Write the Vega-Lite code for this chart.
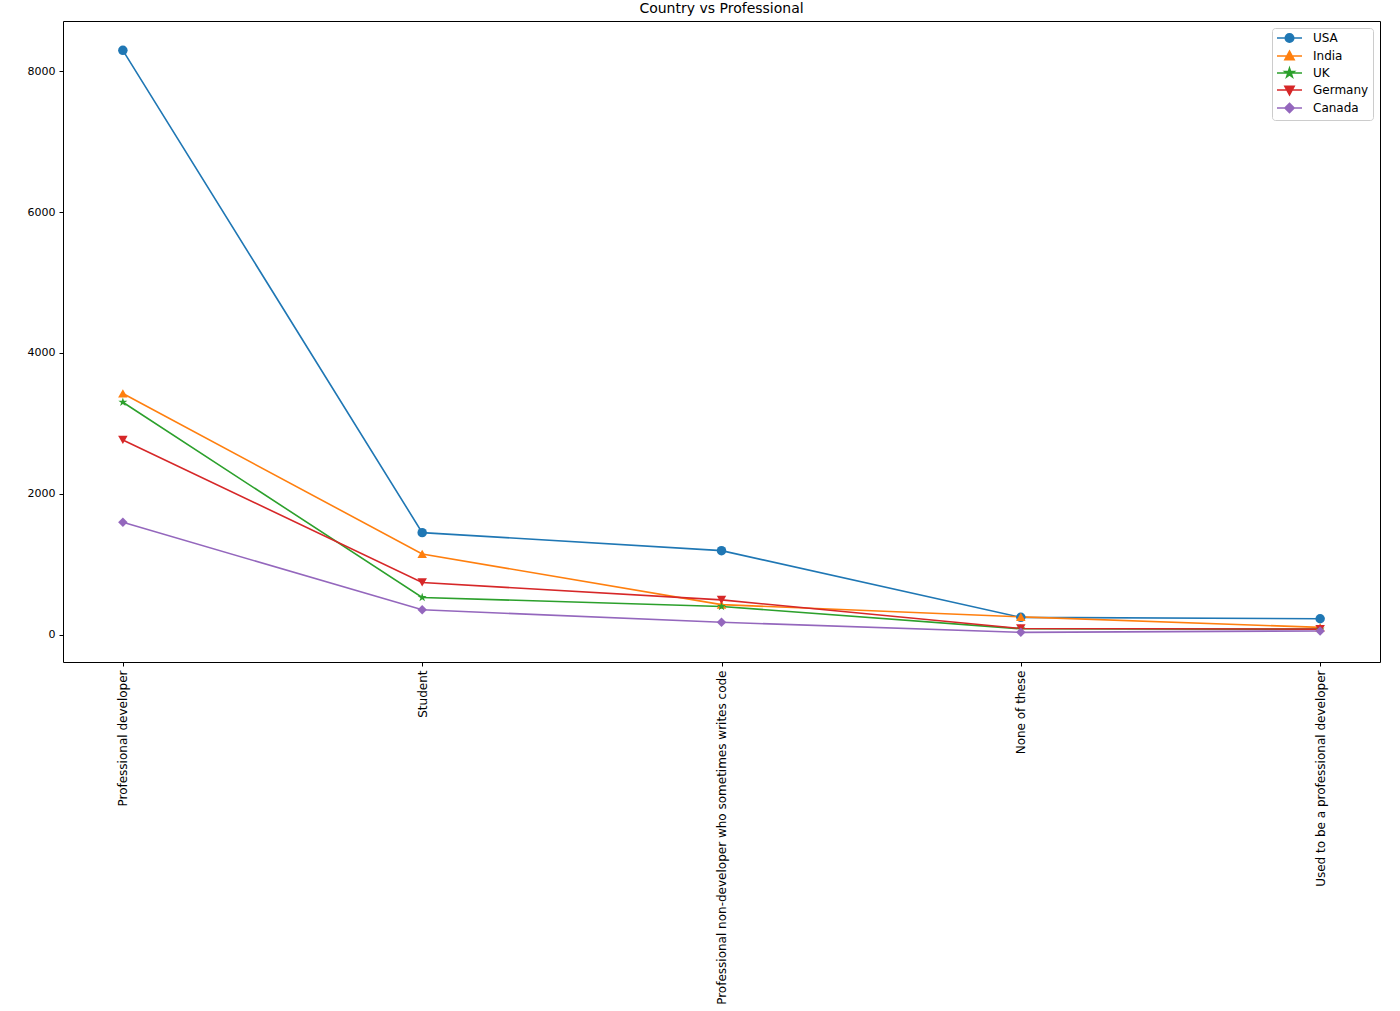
{
  "$schema": "https://vega.github.io/schema/vega-lite/v6.json",
  "width": 1317,
  "height": 641,
  "autosize": {"type": "none"},
  "padding": {"left": 63, "top": 21, "right": 20, "bottom": 349},
  "title": {"text": "Country vs Professional", "font": "DejaVu Sans", "fontSize": 14, "fontWeight": "normal", "offset": 5},
  "config": {
    "font": "DejaVu Sans",
    "view": {"stroke": "black", "strokeWidth": 1},
    "axis": {"grid": false, "domain": false, "tickColor": "black", "labelColor": "black", "labelFontSize": 12, "labelFont": "DejaVu Sans", "tickSize": 4, "labelPadding": 4}
  },
  "data": {
    "values": [
      {"country": "USA", "role": "Professional developer", "count": 8295},
      {"country": "USA", "role": "Student", "count": 1450},
      {"country": "USA", "role": "Professional non-developer who sometimes writes code", "count": 1194},
      {"country": "USA", "role": "None of these", "count": 248},
      {"country": "USA", "role": "Used to be a professional developer", "count": 228},
      {"country": "India", "role": "Professional developer", "count": 3425},
      {"country": "India", "role": "Student", "count": 1147},
      {"country": "India", "role": "Professional non-developer who sometimes writes code", "count": 428},
      {"country": "India", "role": "None of these", "count": 255},
      {"country": "India", "role": "Used to be a professional developer", "count": 105},
      {"country": "UK", "role": "Professional developer", "count": 3300},
      {"country": "UK", "role": "Student", "count": 530},
      {"country": "UK", "role": "Professional non-developer who sometimes writes code", "count": 402},
      {"country": "UK", "role": "None of these", "count": 85},
      {"country": "UK", "role": "Used to be a professional developer", "count": 80},
      {"country": "Germany", "role": "Professional developer", "count": 2765},
      {"country": "Germany", "role": "Student", "count": 743},
      {"country": "Germany", "role": "Professional non-developer who sometimes writes code", "count": 495},
      {"country": "Germany", "role": "None of these", "count": 90},
      {"country": "Germany", "role": "Used to be a professional developer", "count": 80},
      {"country": "Canada", "role": "Professional developer", "count": 1596},
      {"country": "Canada", "role": "Student", "count": 355},
      {"country": "Canada", "role": "Professional non-developer who sometimes writes code", "count": 178},
      {"country": "Canada", "role": "None of these", "count": 35},
      {"country": "Canada", "role": "Used to be a professional developer", "count": 55}
    ]
  },
  "encoding": {
    "x": {
      "field": "role", "type": "nominal", "title": null,
      "sort": ["Professional developer", "Student", "Professional non-developer who sometimes writes code", "None of these", "Used to be a professional developer"],
      "scale": {"type": "point", "padding": 0.2},
      "axis": {"labelAngle": -90, "labelLimit": 400}
    },
    "y": {
      "field": "count", "type": "quantitative", "title": null,
      "scale": {"domain": [-386, 8711], "nice": false, "zero": false},
      "axis": {"values": [0, 2000, 4000, 6000, 8000], "format": "d", "labelFontSize": 11}
    }
  },
  "layer": [
    {
      "mark": {"type": "line", "strokeWidth": 1.6},
      "encoding": {
        "color": {
          "field": "country", "type": "nominal", "title": null,
          "scale": {"domain": ["USA", "India", "UK", "Germany", "Canada"], "range": ["#1f77b4", "#ff7f0e", "#2ca02c", "#d62728", "#9467bd"]},
          "legend": {
            "orient": "top-right", "offset": 7, "padding": 4, "strokeColor": "#cccccc", "cornerRadius": 3, "fillColor": "white",
            "labelFontSize": 12, "labelFont": "DejaVu Sans", "symbolSize": 64, "rowPadding": 2, "labelOffset": 25,
            "symbolStrokeWidth": 1.6,
            "encode": {
              "symbols": {
                "update": {
                  "shape": {"signal": "datum.value === 'USA' ? 'M-1.25,0L5,0M0.815,0A1.06,1.06,0,1,0,2.935,0A1.06,1.06,0,1,0,0.815,0Z' : datum.value === 'India' ? 'M-1.25,0L5,0M1.875,-1.2L3.025,0.9L0.725,0.9Z' : datum.value === 'UK' ? 'M-1.25,0L5,0M1.875,-1.2L2.144,-0.371L3.016,-0.371L2.311,0.142L2.581,0.971L1.875,0.458L1.169,0.971L1.439,0.142L0.734,-0.371L1.606,-0.371Z' : datum.value === 'Germany' ? 'M-1.25,0L5,0M1.875,1.2L3.025,-0.9L0.725,-0.9Z' : 'M-1.25,0L5,0M1.875,-1.15L3.025,0L1.875,1.15L0.725,0Z'"},
                  "fill": {"scale": "color", "field": "value"},
                  "stroke": {"scale": "color", "field": "value"},
                  "strokeWidth": {"value": 1.6}
                }
              }
            }
          }
        },
        "detail": {"field": "country"}
      }
    },
    {
      "mark": {"type": "point", "filled": true, "size": 90, "opacity": 1},
      "encoding": {
        "color": {"field": "country", "type": "nominal", "legend": null},
        "shape": {
          "field": "country", "type": "nominal", "legend": null,
          "scale": {"range": ["diamond", "triangle-down", "triangle-up", "M0,-1L0.2245,-0.309L0.951,-0.309L0.363,0.118L0.588,0.809L0,0.382L-0.588,0.809L-0.363,0.118L-0.951,-0.309L-0.2245,-0.309Z", "circle"]}
        }
      }
    }
  ]
}
